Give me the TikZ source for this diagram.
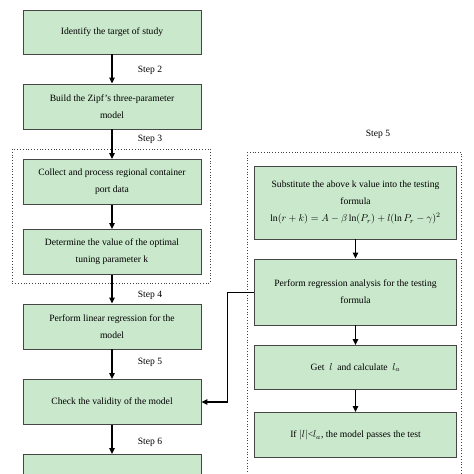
\documentclass[tikz,border=0pt]{standalone}
\usepackage{fontspec}
\setmainfont{Liberation Serif}
\usetikzlibrary{arrows.meta}
\definecolor{boxgreen}{RGB}{202,232,204}
\definecolor{boxedge}{RGB}{70,70,70}
\tikzset{
  stepbox/.style={draw=boxedge, fill=boxgreen, line width=0.9pt, align=center,
    font=\fontsize{9.6pt}{17pt}\selectfont, inner sep=0pt},
  flow/.style={-{Triangle[length=6pt,width=5.5pt]}, line width=1.1pt, black},
  group/.style={draw=black!75, dotted, line width=0.8pt},
  steplabel/.style={font=\fontsize{9.6pt}{11pt}\selectfont, anchor=center}
}
\begin{document}
\begin{tikzpicture}[x=1pt,y=-1pt]
\useasboundingbox (0,0) rectangle (474,474);
\clip (0,0) rectangle (474,474);
% groups
\draw[group] (12,149) rectangle (210,283);
\draw[group] (247,152) rectangle (461,490);
% left boxes
\node[stepbox, minimum width=178pt, minimum height=44pt] (b1) at (112,32) {Identify the target of study};
\node[stepbox, minimum width=178pt, minimum height=45pt] (b2) at (112,106.5) {Build the Zipf's three-parameter\\model};
\node[stepbox, minimum width=178pt, minimum height=45pt] (b3) at (112,182) {Collect and process regional container\\port data};
\node[stepbox, minimum width=178pt, minimum height=45pt] (b4) at (112,252) {Determine the value of the optimal\\tuning parameter k};
\node[stepbox, minimum width=178pt, minimum height=45pt] (b5) at (112,326.5) {Perform linear regression for the\\model};
\node[stepbox, minimum width=178pt, minimum height=45pt] (b6) at (112,402) {Check the validity of the model};
\node[stepbox, minimum width=178pt, minimum height=45pt] (b7) at (112,477) {};
% right boxes
\node[stepbox, minimum width=202.5pt, minimum height=73pt] (r1) at (355.5,202.5) {Substitute the above k value into the testing\\formula\\$\ln(r+k)=A-\beta\ln(P_r)+l(\ln P_r-\gamma)^2$};
\node[stepbox, minimum width=202.5pt, minimum height=66pt] (r2) at (355.5,292) {Perform regression analysis for the testing\\formula};
\node[stepbox, minimum width=202.5pt, minimum height=44pt] (r3) at (355.5,367.5) {Get \ $l$ \ and calculate \ $l_a$};
\node[stepbox, minimum width=202.5pt, minimum height=45pt] (r4) at (355.5,435) {If $|l|$<$l_a$, the model passes the test};
% step labels
\node[steplabel] (s2) at (150,70) {Step 2};
\node[steplabel] (s3) at (150,139) {Step 3};
\node[steplabel] (s4) at (150,295) {Step 4};
\node[steplabel] (s5) at (150,362) {Step 5};
\node[steplabel] (s6) at (150,442) {Step 6};
\node[steplabel] (s5r) at (378,134) {Step 5};
% arrows
\draw[flow] (b1) -- (b2);
\draw[flow] (b2) -- (b3);
\draw[flow] (b3) -- (b4);
\draw[flow] (b4) -- (b5);
\draw[flow] (b5) -- (b6);
\draw[flow] (b6) -- (b7);
\draw[flow] (r1) -- (r2);
\draw[flow] (r2) -- (r3);
\draw[flow] (r3) -- (r4);
\coordinate (c1) at (227.5,292.5);
\coordinate (c2) at (227.5,402);
\draw[flow] (r2.west |- c1) -- (c1) -- (c2) -- (b6.east);
\end{tikzpicture}
\end{document}
